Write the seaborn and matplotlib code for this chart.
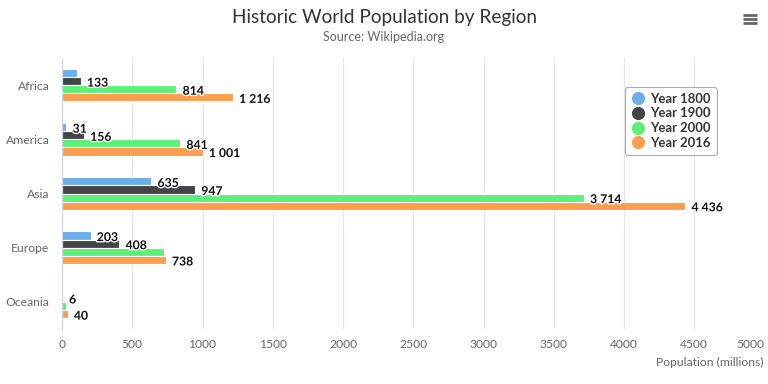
import numpy as np
import pandas as pd
import matplotlib
matplotlib.use("Agg")
import matplotlib.pyplot as plt
import matplotlib.patheffects as pe
from matplotlib.lines import Line2D
import seaborn as sns

#  Data (millions)
regions = ["Africa", "America", "Asia", "Europe", "Oceania"]
years = ["Year 1800", "Year 1900", "Year 2000", "Year 2016"]
pop_1800 = [107, 31, 635, 203, 2]
pop_1900 = [133, 156, 947, 408, 6]
pop_2000 = [814, 841, 3714, 728, 31]
pop_2016 = [1216, 1001, 4436, 738, 40]
x_ticks = list(range(0, 5001, 500))

colors = ["#6caeec", "#434348", "#5cf07b", "#fb9f4f"]

df = pd.DataFrame({
    "region": regions * 4,
    "year": np.repeat(years, len(regions)),
    "value": pop_1800 + pop_1900 + pop_2000 + pop_2016,
})

sns.set_theme(style="white")
plt.rcParams["font.family"] = ["Lato", "DejaVu Sans"]

fig = plt.figure(figsize=(7.68, 3.84), dpi=100)
ax = fig.add_axes([62 / 768, 1 - 329 / 384, 702.5 / 768, 271 / 384])

sns.barplot(data=df, x="value", y="region", hue="year", orient="h",
            palette=colors, saturation=1, width=0.6, edgecolor="white", linewidth=0.8,
            order=regions, hue_order=years, ax=ax, legend=False)

ax.set_xlim(0, 5000)
ax.set_xticks(x_ticks)
ax.set_xticklabels([str(t) for t in x_ticks])
ax.tick_params(axis="x", length=0, pad=7, labelsize=8.7, labelcolor="#666666")
ax.tick_params(axis="y", length=0, pad=9, labelsize=8.7, labelcolor="#666666")
ax.get_xticklabels()[-1].set_horizontalalignment("right")
ax.grid(axis="x", color="#e6e6e6", linewidth=0.8)
ax.set_axisbelow(True)
for s in ["top", "right", "bottom"]:
    ax.spines[s].set_visible(False)
ax.spines["left"].set_color("#ccd6eb")
ax.spines["left"].set_linewidth(0.8)
ax.set_ylabel("")
ax.set_xlabel("")

#  Data labels, drop the ones that collide (like Highcharts does)
def fmt(v):
    return f"{v:,}".replace(",", " ")

labels = []
for cont in ax.containers:
    for bar in cont:
        v = bar.get_width()
        yc = bar.get_y() + bar.get_height() / 2
        t = ax.annotate(fmt(int(round(v))), (v, yc), xytext=(4.5, -1.5),
                        textcoords="offset points", ha="left", va="center",
                        fontsize=8.8, fontweight="bold", color="#111111",
                        path_effects=[pe.withStroke(linewidth=2, foreground="white")])
        labels.append(t)

fig.canvas.draw()
r = fig.canvas.get_renderer()
kept = []
n = len(regions)
order = []
for k in range(len(years) - 1, -1, -1):
    order += labels[k * n:(k + 1) * n]
for t in order:
    bb = t.get_window_extent(r).shrunk(0.95, 0.8)
    if any(bb.overlaps(o) for o in kept):
        t.set_visible(False)
    else:
        kept.append(bb)

#  Legend
handles = [Line2D([], [], marker="o", linestyle="", markersize=8.5,
                  markerfacecolor=c, markeredgecolor=c) for c in colors]
leg = ax.legend(handles, years, loc="upper left", bbox_to_anchor=(0.801, 0.893),
                frameon=True, fancybox=True, edgecolor="#999999",
                prop={"weight": "bold", "size": 9.4}, labelspacing=0.2,
                handletextpad=0.3, handlelength=1.2, borderpad=0.45,
                borderaxespad=0)
leg.get_frame().set_linewidth(0.8)
for txt in leg.get_texts():
    txt.set_color("#333333")

#  Titles
fig.text(0.5, 1 - 17 / 384, "Historic World Population by Region", ha="center",
         va="center", fontsize=13.7, color="#333333")
fig.text(0.5, 1 - 37 / 384, "Source: Wikipedia.org", ha="center", va="center",
         fontsize=9, color="#666666")
fig.text(764 / 768, 1 - 362 / 384, "Population (millions)", ha="right", va="center",
         fontsize=8.7, color="#666666")

#  Menu icon
for yy in [14.5, 18.5, 22.5]:
    fig.add_artist(Line2D([743 / 768, 757 / 768], [1 - yy / 384, 1 - yy / 384],
                          color="#666666", linewidth=2, solid_capstyle="butt"))

fig.savefig("out.png", dpi=100)
